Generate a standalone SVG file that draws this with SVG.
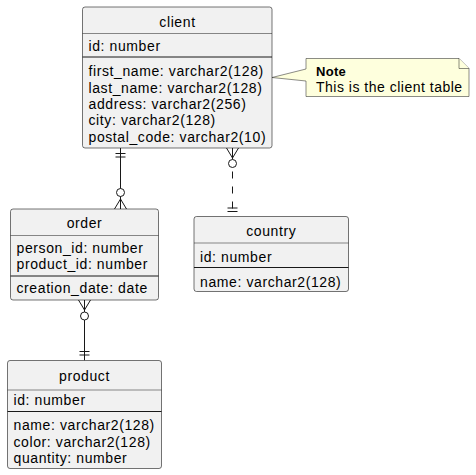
<svg xmlns="http://www.w3.org/2000/svg" width="476" height="475" viewBox="0 0 476 475">
<style>
.box{fill:#F1F1F1;stroke:#181818;stroke-width:0.6}
.sep{stroke:#181818;stroke-width:0.5;fill:none}
.ksep{stroke:#181818;stroke-width:1;fill:none}
text{font-family:"Liberation Sans",Arial,sans-serif;font-size:14px;fill:#000;letter-spacing:0.6px}
.h{text-anchor:middle}
.ln{stroke:#181818;stroke-width:1;fill:none}
.circ{stroke:#181818;stroke-width:1;fill:#FFFFFF}
.note{fill:#FEFFDD;stroke:#181818;stroke-width:0.5}
</style>
<rect width="476" height="475" fill="#FFFFFF"/>
<g id="connectors">
  <g id="client-order">
    <line class="ln" x1="120.5" y1="148" x2="120.5" y2="209"/>
    <line class="ln" x1="115.5" y1="153.5" x2="125.5" y2="153.5"/>
    <line class="ln" x1="115.5" y1="157" x2="125.5" y2="157"/>
    <path class="ln" d="M114.5,209 L120.5,199 L126.5,209"/>
    <circle class="circ" cx="120.5" cy="192.5" r="4"/>
  </g>
  <g id="client-country">
    <path class="ln" d="M226.5,148 L232.5,158 L238.5,148 M232.5,148 V159.5"/>
    <circle class="circ" cx="232.5" cy="163.5" r="4"/>
    <line class="ln" x1="232.5" y1="167.5" x2="232.5" y2="216.5" stroke-dasharray="7,8" stroke-dashoffset="11"/>
    <line class="ln" x1="227.5" y1="208" x2="237.5" y2="208"/>
    <line class="ln" x1="227.5" y1="211.5" x2="237.5" y2="211.5"/>
  </g>
  <g id="order-product">
    <line class="ln" x1="84.5" y1="300" x2="84.5" y2="312"/>
    <path class="ln" d="M78.5,300 L84.5,310 L90.5,300"/>
    <circle class="circ" cx="84.5" cy="316" r="4"/>
    <line class="ln" x1="84.5" y1="320" x2="84.5" y2="360.5"/>
    <line class="ln" x1="79.5" y1="351.5" x2="89.5" y2="351.5"/>
    <line class="ln" x1="79.5" y1="355" x2="89.5" y2="355"/>
  </g>
</g>
<g id="client">
  <rect class="box" x="82.5" y="7" width="189.5" height="141" rx="2.5"/>
  <line class="sep" x1="82.5" y1="33.5" x2="272" y2="33.5"/>
  <line class="ksep" x1="82.5" y1="57" x2="272" y2="57"/>
  <text class="h" x="177.5" y="27">client</text>
  <text x="88.5" y="51">id: number</text>
  <text x="88.5" y="76">first_name: varchar2(128)</text>
  <text x="88.5" y="92.5">last_name: varchar2(128)</text>
  <text x="88.5" y="108.5">address: varchar2(256)</text>
  <text x="88.5" y="125">city: varchar2(128)</text>
  <text x="88.5" y="141.5">postal_code: varchar2(10)</text>
</g>
<g id="note">
  <path class="note" d="M306,58.5 H459 L469,68.5 V96.5 H306 V81 L272,77.5 L306,69 Z"/>
  <path class="note" d="M459,58.5 V68.5 H469"/>
  <text x="316" y="76" style="font-weight:bold;font-size:13px;letter-spacing:0.3px">Note</text>
  <text x="316" y="91.5" style="letter-spacing:0.5px">This is the client table</text>
</g>
<g id="order">
  <rect class="box" x="10.5" y="209" width="148" height="91" rx="2.5"/>
  <line class="sep" x1="10.5" y1="235.5" x2="158.5" y2="235.5"/>
  <line class="ksep" x1="10.5" y1="276" x2="158.5" y2="276"/>
  <text class="h" x="84.5" y="228">order</text>
  <text x="16.5" y="252.5">person_id: number</text>
  <text x="16.5" y="269">product_id: number</text>
  <text x="16.5" y="293">creation_date: date</text>
</g>
<g id="country">
  <rect class="box" x="194" y="216.5" width="154.5" height="75" rx="2.5"/>
  <line class="sep" x1="194" y1="243" x2="348.5" y2="243"/>
  <line class="ksep" x1="194" y1="267.5" x2="348.5" y2="267.5"/>
  <text class="h" x="271.25" y="236">country</text>
  <text x="200" y="262">id: number</text>
  <text x="200" y="286.5">name: varchar2(128)</text>
</g>
<g id="product">
  <rect class="box" x="7.5" y="360.5" width="154" height="108" rx="2.5"/>
  <line class="sep" x1="7.5" y1="390" x2="161.5" y2="390"/>
  <line class="ksep" x1="7.5" y1="411.5" x2="161.5" y2="411.5"/>
  <text class="h" x="84.5" y="380.5">product</text>
  <text x="13.5" y="404.5">id: number</text>
  <text x="13.5" y="430">name: varchar2(128)</text>
  <text x="13.5" y="446.5">color: varchar2(128)</text>
  <text x="13.5" y="463">quantity: number</text>
</g>
</svg>
